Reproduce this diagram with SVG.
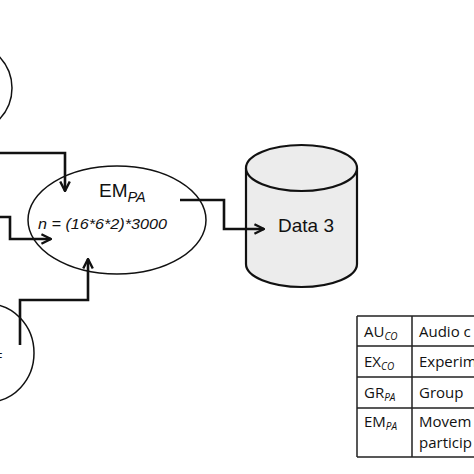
<svg xmlns="http://www.w3.org/2000/svg" width="474" height="474" viewBox="0 0 474 474">
<style>
.conn{fill:none;stroke:#111;stroke-width:2.6}
.ell{fill:none;stroke:#111;stroke-width:1.5}
.t{font-family:"Liberation Sans",Arial,sans-serif;fill:#111}
.tb{font-family:"Open Sans","Liberation Sans",sans-serif;fill:#111;font-size:15px}
.grid{fill:none;stroke:#222;stroke-width:1.5}
</style>
<defs>
<marker id="arr" viewBox="0 0 10 10" refX="9" refY="5" markerWidth="4.6" markerHeight="4.6" orient="auto" markerUnits="strokeWidth">
<path d="M1,1 L9,5 L1,9" fill="none" stroke="#111" stroke-width="2"/>
</marker>
</defs>
<rect width="474" height="474" fill="#fff"/>
<g id="node-top-left">
<ellipse class="ell" cx="-40" cy="88" rx="52" ry="48"/>
</g>
<g id="node-bottom-left">
<ellipse class="ell" cx="-12" cy="353" rx="46" ry="49"/>
<text class="t" x="-5" y="362" font-size="12">F</text>
</g>
<g id="node-em">
<ellipse class="ell" cx="117" cy="220" rx="89" ry="54"/>
<text class="t" x="99" y="197" font-size="19">EM<tspan font-size="14.5" font-style="italic" dy="5">PA</tspan></text>
<text class="t" x="38" y="229" font-size="14.5" font-style="italic" textLength="129" lengthAdjust="spacingAndGlyphs">n = (16*6*2)*3000</text>
</g>
<g id="node-data3">
<path d="M246,168 L246,264 A55.5,23 0 0 0 357,264 L357,168" fill="#ececec" stroke="#111" stroke-width="2.2"/>
<ellipse cx="301.5" cy="168" rx="55.5" ry="23" fill="#ececec" stroke="#111" stroke-width="2.2"/>
<text class="t" x="278" y="232" font-size="19">Data 3</text>
</g>
<g id="connectors">
<path class="conn" d="M0,153 L65,153 L65,191" marker-end="url(#arr)"/>
<path class="conn" d="M0,217 L10,217 L10,239 L51,239" marker-end="url(#arr)"/>
<path class="conn" d="M20,345 L20,300 L88,300 L88,259" marker-end="url(#arr)"/>
<path class="conn" d="M180,200 L224,200 L224,229 L264,229" marker-end="url(#arr)"/>
</g>
<g id="legend">
<path class="grid" d="M357,316 L480,316 M357,346 L480,346 M357,377 L480,377 M357,408 L480,408 M357,457 L480,457 M357,316 L357,457 M412,316 L412,457"/>
<text class="tb" x="364" y="337">AU<tspan font-size="10" font-style="italic" dy="3">CO</tspan></text>
<text class="tb" x="364" y="367">EX<tspan font-size="10" font-style="italic" dy="3">CO</tspan></text>
<text class="tb" x="364" y="398">GR<tspan font-size="10" font-style="italic" dy="3">PA</tspan></text>
<text class="tb" x="364" y="427">EM<tspan font-size="10" font-style="italic" dy="3">PA</tspan></text>
<text class="tb" x="419" y="337">Audio c</text>
<text class="tb" x="419" y="367">Experim</text>
<text class="tb" x="419" y="398">Group</text>
<text class="tb" x="419" y="427">Movem</text>
<text class="tb" x="419" y="448">particip</text>
</g>
</svg>
